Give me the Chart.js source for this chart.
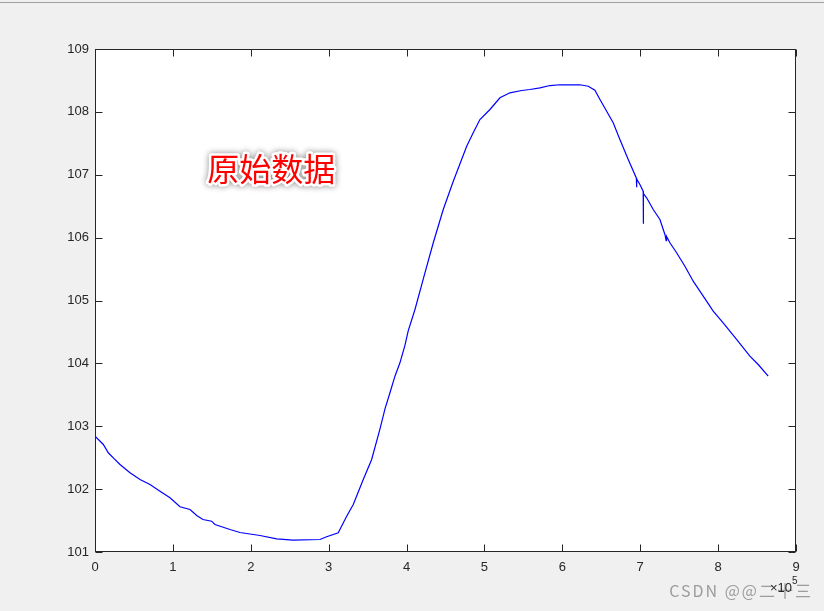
<!DOCTYPE html>
<html><head><meta charset="utf-8">
<script src="https://cdn.jsdelivr.net/npm/chart.js@4/dist/chart.umd.min.js"></script>
<style>html,body{margin:0;padding:0;background:#f0f0f0;overflow:hidden}#wrap{width:824px;height:611px}</style>
</head><body><div id="wrap"><canvas id="c" width="824" height="611"></canvas></div>
<script>
// x in units of 1e5
const xValues = [0,0.107,0.171,0.235,0.321,0.449,0.578,0.706,0.834,0.963,
1.091,1.220,1.306,1.386,1.498,1.540,1.733,1.861,2.118,2.332,
2.542,2.888,2.974,3.123,3.231,3.316,3.444,3.552,3.659,3.723,
3.787,3.851,3.915,3.980,4.022,4.108,4.236,4.343,4.471,4.600,
4.707,4.772,4.856,4.942,5.071,5.199,5.327,5.478,5.584,5.713,
5.841,5.969,6.226,6.333,6.418,6.483,6.569,6.653,6.739,6.846,
6.950,6.953,6.956,6.996,7.038,7.040,7.042,7.082,7.167,7.253,
7.317,7.333,7.338,7.381,7.467,7.574,7.680,7.766,7.852,7.937,
8.065,8.237,8.408,8.515,8.643];
const yValues = [102.842,102.710,102.578,102.498,102.392,102.260,102.153,102.074,101.967,101.862,
101.719,101.676,101.580,101.517,101.490,101.437,101.358,101.310,101.262,101.210,
101.188,101.199,101.242,101.305,101.569,101.755,102.153,102.471,102.958,103.276,
103.532,103.796,104.009,104.290,104.520,104.857,105.440,105.918,106.447,106.897,
107.243,107.454,107.667,107.879,108.038,108.224,108.303,108.340,108.356,108.383,
108.419,108.431,108.431,108.408,108.345,108.197,108.011,107.826,107.561,107.243,
106.95,106.80,106.93,106.845,106.738,106.22,106.70,106.633,106.447,106.288,
106.050,105.95,106.02,105.918,105.759,105.545,105.307,105.148,104.989,104.830,
104.645,104.380,104.114,103.982,103.796];
const xTickLabels = ['0','1','2','3','4','5','6','7','8','9'];
const yTickLabels = ['101','102','103','104','105','106','107','108','109'];
const annotationText = '原始数据';
const annotationPos = [1.44, 107.1];
const exponentBase = '×10';
const exponentPower = '5';
const watermarkText = 'CSDN @@二十三';

const axisColor = '#262626';
const tickFont = {family: '"Liberation Sans", Arial, Helvetica, sans-serif', size: 13};

const points = xValues.map((x, i) => ({x: x, y: yValues[i]}));

const framePlugin = {
  id: 'frame',
  beforeDraw(chart) {
    const {ctx, chartArea: a} = chart;
    ctx.save();
    ctx.fillStyle = '#f0f0f0';
    ctx.fillRect(0, 0, chart.width, chart.height);
    ctx.fillStyle = '#a0a0a0';
    ctx.fillRect(0, 2, chart.width, 1);
    ctx.fillStyle = '#ffffff';
    ctx.fillRect(a.left, a.top, a.right - a.left, a.bottom - a.top);
    ctx.restore();
  },
  afterDatasetsDraw(chart) {
    const {ctx, chartArea: a, scales} = chart;
    ctx.save();
    ctx.strokeStyle = axisColor;
    ctx.lineWidth = 1;
    const L = Math.round(a.left) + 0.5, R = Math.round(a.right) - 0.5;
    const T = Math.round(a.top) + 0.5, B = Math.round(a.bottom) - 0.5;
    ctx.strokeRect(L, T, R - L, B - T);
    const tl = 7;
    ctx.beginPath();
    scales.x.ticks.forEach(t => {
      const px = Math.round(scales.x.getPixelForValue(t.value)) + 0.5;
      ctx.moveTo(px, B); ctx.lineTo(px, B - tl);
      ctx.moveTo(px, T); ctx.lineTo(px, T + tl);
    });
    scales.y.ticks.forEach(t => {
      const py = Math.round(scales.y.getPixelForValue(t.value)) + 0.5;
      ctx.moveTo(L, py); ctx.lineTo(L + tl, py);
      ctx.moveTo(R, py); ctx.lineTo(R - tl, py);
    });
    ctx.stroke();

    // annotation
    const ax = scales.x.getPixelForValue(annotationPos[0]);
    const ay = scales.y.getPixelForValue(annotationPos[1]);
    ctx.font = '32px "Noto Sans CJK SC", sans-serif';
    ctx.textAlign = 'left';
    ctx.textBaseline = 'middle';
    ctx.shadowColor = 'rgba(0,0,0,0.45)';
    ctx.shadowBlur = 6;
    ctx.lineJoin = 'round';
    ctx.lineWidth = 5;
    ctx.strokeStyle = '#ffffff';
    ctx.strokeText(annotationText, ax, ay);
    ctx.shadowBlur = 0;
    ctx.shadowColor = 'transparent';
    ctx.fillStyle = '#ff0000';
    ctx.fillText(annotationText, ax, ay);

    // watermark
    ctx.font = '16px "Noto Sans CJK SC", sans-serif';
    ctx.fillStyle = 'rgba(100,100,100,0.6)';
    ctx.textBaseline = 'middle';
    ctx.textAlign = 'right';
    try { ctx.letterSpacing = '2px'; } catch (e) {}
    ctx.fillText(watermarkText, 813, 591);
    try { ctx.letterSpacing = '0px'; } catch (e) {}

    // exponent
    ctx.fillStyle = axisColor;
    ctx.font = '13px "Liberation Sans", Arial, sans-serif';
    ctx.textBaseline = 'alphabetic';
    ctx.textAlign = 'right';
    ctx.fillText(exponentBase, 792, 592);
    ctx.font = '10px "Liberation Sans", Arial, sans-serif';
    ctx.textAlign = 'left';
    ctx.fillText(exponentPower, 792, 584);
    ctx.restore();
  }
};

new Chart(document.getElementById('c'), {
  type: 'line',
  data: {
    datasets: [{
      data: points,
      borderColor: '#0000ff',
      borderWidth: 1.2,
      pointRadius: 0,
      tension: 0,
      fill: false
    }]
  },
  options: {
    responsive: false,
    devicePixelRatio: 1,
    animation: false,
    layout: {padding: {top: 49, right: 28, left: 0, bottom: 0}},
    plugins: {legend: {display: false}, tooltip: {enabled: false}},
    scales: {
      x: {
        type: 'linear', min: 0, max: 9,
        grid: {display: false, drawTicks: false},
        border: {display: false},
        ticks: {
          stepSize: 1, padding: 8, color: axisColor, font: tickFont, maxRotation: 0,
          callback: v => xTickLabels[Math.round(v)] ?? ''
        },
        afterFit: s => { s.height = 59; }
      },
      y: {
        type: 'linear', min: 101, max: 109,
        grid: {display: false, drawTicks: false},
        border: {display: false},
        ticks: {
          stepSize: 1, padding: 6, color: axisColor, font: tickFont,
          callback: v => yTickLabels[Math.round(v) - 101] ?? ''
        },
        afterFit: s => { s.width = 95; }
      }
    }
  },
  plugins: [framePlugin]
});
</script>
</body></html>
